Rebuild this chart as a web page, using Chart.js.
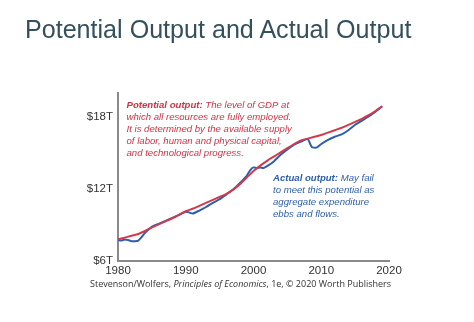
<!DOCTYPE html>
<html><head><meta charset="utf-8">
<script src="https://cdn.jsdelivr.net/npm/chart.js@4/dist/chart.umd.min.js"></script>
<style>
html,body{margin:0;padding:0;background:#fff;width:474px;height:322px;overflow:hidden;}
#wrap{position:absolute;left:0;top:0;width:474px;height:322px;}
#title{position:absolute;left:25px;top:15px;font-family:"Liberation Sans",Arial,sans-serif;font-size:25.1px;color:#34505c;white-space:nowrap;}
#src{position:absolute;left:90px;top:277px;font-family:"Open Sans","Liberation Sans",sans-serif;font-size:9px;color:#333;white-space:nowrap;}
</style></head>
<body>
<div id="wrap"><canvas id="c" width="474" height="322"></canvas></div>
<div id="title">Potential Output and Actual Output</div>
<div id="src">Stevenson/Wolfers, <i>Principles of Economics</i>, 1e, © 2020 Worth Publishers</div>
<script>
const potentialYears = [1980,1981,1982,1983,1984,1985,1986,1987,1988,1989,1990,1991,1992,1993,1994,1995,1996,1997,1998,1999,2000,2001,2002,2003,2004,2005,2006,2007,2008,2009,2010,2011,2012,2013,2014,2015,2016,2017,2018,2019];
const potentialValues = [7.8,7.95,8.1,8.25,8.5,8.8,9.05,9.3,9.55,9.85,10.15,10.35,10.6,10.85,11.1,11.35,11.6,11.95,12.4,12.95,13.5,13.95,14.35,14.7,15.05,15.4,15.75,16.05,16.2,16.35,16.5,16.7,16.9,17.1,17.35,17.6,17.85,18.15,18.5,18.9];
const actualYears = [1980,1980.5,1981,1981.5,1982,1982.5,1983,1983.5,1984,1985,1986,1987,1988,1989,1990,1990.5,1991,1992,1993,1994,1995,1996,1997,1998,1999,1999.5,2000,2000.5,2001,2001.5,2002,2003,2004,2005,2006,2007,2008,2008.6,2009.3,2010,2011,2012,2013,2014,2015,2016,2017,2018,2019];
const actualValues = [7.75,7.7,7.8,7.75,7.65,7.65,7.7,8.0,8.35,8.85,9.1,9.35,9.6,9.85,10.1,10.05,9.95,10.2,10.5,10.85,11.15,11.55,11.95,12.5,13.1,13.55,13.8,13.75,13.8,13.75,13.9,14.3,14.85,15.3,15.7,15.95,16.15,15.5,15.45,15.75,16.1,16.35,16.55,16.9,17.35,17.7,18.05,18.45,18.9];
const yTicks = [6,12,18];
const yTickLabels = ['$6T','$12T','$18T'];
const xTicks = [1980,1990,2000,2010,2020];

const potentialNote = [
  [{t:'Potential output: ',b:true},{t:'The level of GDP at'}],
  [{t:'which all resources are fully employed.'}],
  [{t:'It is determined by the available supply'}],
  [{t:'of labor, human and physical capital,'}],
  [{t:'and technological progress.'}]
];
const actualNote = [
  [{t:'Actual output: ',b:true},{t:'May fail'}],
  [{t:'to meet this potential as'}],
  [{t:'aggregate expenditure'}],
  [{t:'ebbs and flows.'}]
];

const notes = {
  id:'notes',
  afterDraw(chart){
    const ctx = chart.ctx;
    function draw(lines, x, y, color){
      ctx.save();
      ctx.fillStyle = color;
      ctx.textBaseline = 'middle';
      lines.forEach((line,i)=>{
        let cx = x;
        line.forEach(seg=>{
          ctx.font = (seg.b?'italic bold ':'italic ') + '9.6px "Liberation Sans", Arial, sans-serif';
          ctx.fillText(seg.t, cx, y + i*12.1);
          cx += ctx.measureText(seg.t).width;
        });
      });
      ctx.restore();
    }
    draw(potentialNote, 126.5, 105, '#cc3548');
    draw(actualNote, 273, 178.5, '#2f5ea8');
  }
};

new Chart(document.getElementById('c'), {
  type:'line',
  data:{
    datasets:[
      {label:'Potential output', data: potentialYears.map((x,i)=>({x, y: potentialValues[i]})), borderColor:'#d23a4c', borderWidth:2, pointRadius:0, tension:0.4, cubicInterpolationMode:'monotone', fill:false},
      {label:'Actual output', data: actualYears.map((x,i)=>({x, y: actualValues[i]})), borderColor:'#2d5fae', borderWidth:2, pointRadius:0, tension:0.2, fill:false}
    ]
  },
  options:{
    responsive:false, animation:false,
    layout:{padding:{left:78, right:85, top:93, bottom:39}},
    plugins:{legend:{display:false}, tooltip:{enabled:false}},
    scales:{
      x:{type:'linear', min:1980, max:2020,
        grid:{display:false, drawTicks:false},
        border:{display:true, color:'#8a8a8a', width:2},
        afterBuildTicks(s){ s.ticks = xTicks.map(v=>({value:v})); },
        afterFit(s){ s.height = 22; },
        ticks:{padding:3, color:'#333', font:{family:'"Liberation Sans", Arial, sans-serif', size:11.5}, maxRotation:0, callback:(v)=>String(v)}
      },
      y:{type:'linear', min:6, max:20,
        grid:{display:false, drawTicks:false},
        border:{display:true, color:'#8a8a8a', width:2},
        afterBuildTicks(s){ s.ticks = yTicks.map(v=>({value:v})); },
        afterFit(s){ s.width = 40; },
        ticks:{padding:5, color:'#333', font:{family:'"Liberation Sans", Arial, sans-serif', size:11.5}, callback:(v)=>yTickLabels[yTicks.indexOf(v)]}
      }
    }
  },
  plugins:[notes]
});
</script>
</body></html>
